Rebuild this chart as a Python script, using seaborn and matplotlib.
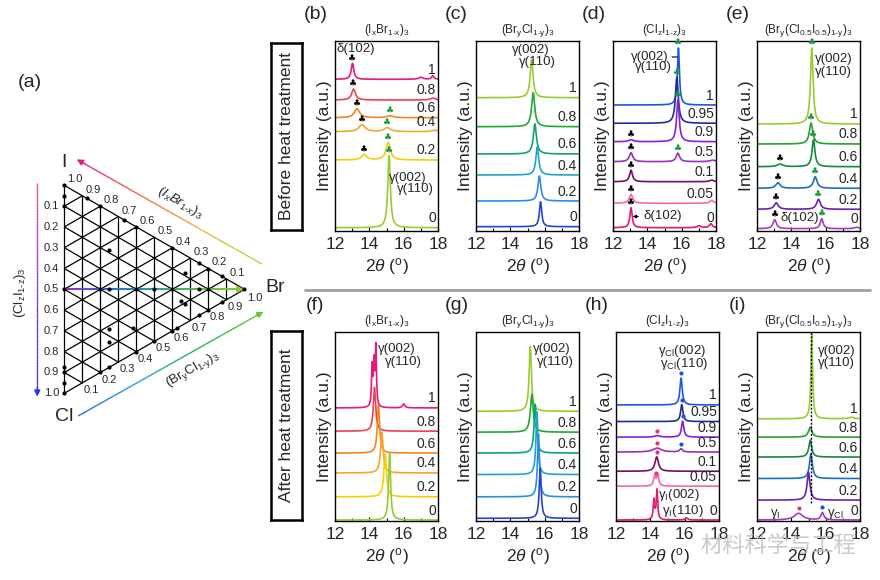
# XRD patterns of the mixed-halide series before / after heat treatment + ternary map

import numpy as np
import pandas as pd
import matplotlib
matplotlib.use("Agg")
import matplotlib.pyplot as plt
import seaborn as sns
from matplotlib.collections import LineCollection
from matplotlib.colors import LinearSegmentedColormap
from matplotlib.lines import Line2D

W, H = 880, 580

# ---------------- data (heights in px above the axis bottom, 2theta in deg) ----------------
ibr_comps = ["1", "0.8", "0.6", "0.4", "0.2", "0"]
brcl_comps = ["1", "0.8", "0.6", "0.4", "0.2", "0"]
cli_comps = ["1", "0.95", "0.9", "0.5", "0.1", "0.05", "0"]
brcli_comps = ["1", "0.8", "0.6", "0.4", "0.2", "0"]

ibr_colors = ["#e8187c", "#f0434f", "#f7851f", "#f6a532", "#f5cd0a", "#99cc33"]
brcl_colors = ["#99cc33", "#1faa2e", "#12a07a", "#1ea6c8", "#2a8ee6", "#2345d3"]
cli_colors = ["#2256e0", "#1b2e9e", "#8a1fd6", "#9a30b8", "#7a0a64", "#f56aa6", "#e3186f"]
brcli_colors = ["#99cc33", "#2aa12e", "#158a3c", "#1f6fbf", "#6a1fb8", "#a23dc2"]

# (b) before, IxBr1-x
b_base = [151.7, 131, 113.3, 99.3, 71, 3.3]
b_peaks = [
    [(13.02, 16, 0.09), (17.0, 2, 0.15), (17.7, 3.5, 0.08)],
    [(13.08, 11, 0.13), (17.7, 2, 0.15)],
    [(13.28, 9, 0.18), (15.2, 2, 0.2)],
    [(13.57, 7, 0.22), (15.05, 4, 0.22), (17.8, 1.5, 0.2)],
    [(13.7, 5.5, 0.18), (15.1, 17.5, 0.15)],
    [(15.15, 72, 0.09)],
]
b_marks = [(0, 13.02, "d"), (1, 13.08, "d"), (2, 13.28, "d"), (3, 13.57, "d"), (4, 13.7, "d"),
           (2, 15.2, "g"), (3, 15.05, "g"), (4, 15.1, "g"), (5, 15.15, "g")]

# (c) before, BryCl1-y
c_base = [133.3, 104.3, 77, 56, 30, 4.3]
c_peaks = [
    [(15.24, 38, 0.1)],
    [(15.33, 34, 0.11)],
    [(15.43, 30, 0.11)],
    [(15.57, 28, 0.1)],
    [(15.69, 25, 0.1)],
    [(15.76, 25, 0.08)],
]

# (d) before, ClzI1-z
d_base = [126, 107.7, 89.3, 69.3, 49.3, 27.7, 3.3]
d_peaks = [
    [(15.81, 57, 0.07)],
    [(15.72, 46, 0.1)],
    [(15.78, 42, 0.09), (13.05, 2, 0.15)],
    [(13.05, 9, 0.12), (15.78, 8.5, 0.12), (17.8, 1.5, 0.2)],
    [(13.05, 11.5, 0.1), (17.75, 1.5, 0.15)],
    [(13.05, 9, 0.12), (17.75, 3, 0.12)],
    [(13.05, 20, 0.08), (17.0, 2, 0.12), (17.7, 4, 0.1)],
]
d_marks = [(0, 15.81, "g"), (1, 15.72, "g"), (2, 15.78, "g"), (3, 15.78, "g"),
           (2, 13.05, "d"), (3, 13.05, "d"), (4, 13.05, "d"), (5, 13.05, "d"), (6, 13.05, "d")]

# (e) before, Bry(Cl0.5I0.5)1-y
e_base = [107, 87, 64.3, 42.7, 21.7, 2.3]
e_peaks = [
    [(15.19, 76, 0.09)],
    [(15.15, 21, 0.12)],
    [(15.29, 27, 0.1), (13.35, 2.5, 0.2)],
    [(13.22, 5.5, 0.15), (15.39, 11.5, 0.13)],
    [(13.12, 6.5, 0.14), (15.58, 10, 0.13)],
    [(13.03, 9, 0.12), (15.77, 10, 0.1), (17.8, 1.5, 0.15)],
]
e_marks = [(0, 15.19, "g"), (1, 15.15, "g"), (2, 15.29, "g"), (3, 15.39, "g"), (4, 15.58, "g"),
           (5, 15.77, "g"), (2, 13.35, "d"), (3, 13.22, "d"), (4, 13.12, "d"), (5, 13.03, "d")]

# (f) after, IxBr1-x
f_base = [113.7, 90.3, 68.3, 48.3, 24.3, 1]
f_peaks = [
    [(14.16, 40, 0.04), (14.27, 42, 0.04), (14.38, 60, 0.04), (16.0, 4, 0.08)],
    [(14.3, 44, 0.08)],
    [(14.53, 48, 0.08)],
    [(14.73, 41, 0.09)],
    [(14.92, 43, 0.09)],
    [(15.18, 67, 0.07)],
]

# (g) after, BryCl1-y
g_base = [110.3, 89.3, 68.3, 46.7, 24.3, 2.7]
g_peaks = [
    [(15.16, 65, 0.08)],
    [(15.25, 38, 0.1)],
    [(15.45, 49, 0.08)],
    [(15.55, 63, 0.07)],
    [(15.64, 63, 0.07)],
    [(15.74, 50, 0.07)],
]

# (h) after, ClzI1-z
h_base = [116.7, 100, 84.3, 69.3, 50, 35, 1]
h_peaks = [
    [(15.79, 27, 0.08)],
    [(15.83, 17, 0.08)],
    [(15.88, 16, 0.08), (14.4, 1.5, 0.2)],
    [(14.4, 4, 0.3), (15.79, 3.3, 0.1)],
    [(14.37, 14.5, 0.12)],
    [(14.25, 10, 0.07), (14.43, 11, 0.07)],
    [(14.21, 20, 0.05), (14.39, 30, 0.05), (16.1, 2, 0.1)],
]
h_marks = [(0, 15.79, "b"), (1, 15.83, "b"), (2, 15.88, "b"), (3, 15.79, "b"),
           (2, 14.4, "p"), (3, 14.4, "p"), (4, 14.37, "p"), (5, 14.35, "p"), (6, 14.3, "p")]

# (i) after, Bry(Cl0.5I0.5)1-y
i_base = [102.7, 84.3, 64.3, 42.7, 21, 1]
i_peaks = [
    [(15.19, 85, 0.06), (17.5, 1.5, 0.2)],
    [(15.1, 10, 0.12)],
    [(15.1, 17, 0.1)],
    [(15.14, 25, 0.1)],
    [(15.0, 28, 0.1)],
    [(14.42, 6.7, 0.3), (15.81, 7.3, 0.1)],
]
i_marks = [(5, 14.42, "p"), (5, 15.81, "b")]

# ternary map: measured compositions as (Br fraction, I fraction)
tern_br = [0, 0, 0, 0, 0, 0, 0, 0,
           0.125, 0.2, 0.333, 0.4, 0.6, 0.75, 0.8, 0.875, 1.0,
           0.2, 0.25, 0.4, 0.5, 0.6, 0.625, 0.75, 0.8, 0.875,
           0.2, 0.25, 0.4, 0.5, 0.6, 0.75, 0.8,
           0.25, 0.67, 0.65, 0.67, 0.25, 0.38, 0.25]
tern_i = [1, 0.95, 0.9, 0.5, 0.125, 0.1, 0.05, 0,
          0.875, 0.8, 0.667, 0.6, 0.4, 0.25, 0.2, 0.125, 0.0,
          0, 0, 0, 0, 0, 0, 0, 0, 0,
          0.4, 0.375, 0.3, 0.25, 0.2, 0.125, 0.1,
          0.565, 0.242, 0.12, 0.093, 0.186, 0.123, 0.122]
tick_vals = [0.1, 0.2, 0.3, 0.4, 0.5, 0.6, 0.7, 0.8, 0.9, 1.0]

# ---------------- style ----------------
sns.set_theme(style="white")
plt.rcParams["font.family"] = ["Liberation Sans", "DejaVu Sans", "Noto Sans CJK SC"]
plt.rcParams["mathtext.fontset"] = "custom"
plt.rcParams["mathtext.rm"] = "Liberation Sans"
plt.rcParams["mathtext.it"] = "Liberation Sans:italic"
plt.rcParams["mathtext.bf"] = "Liberation Sans:bold"

fig = plt.figure(figsize=(W / 100, H / 100), dpi=100)


def px_axes(l, t, w, h):
    return fig.add_axes([l / W, 1 - (t + h) / H, w / W, h / H])


tt = np.linspace(12, 18, 721)


def profile(x, base, peaks):
    y = np.full_like(x, base, dtype=float)
    for x0, hh, ww in peaks:
        y = y + hh / (1 + ((x - x0) / ww) ** 2)
    return y


def xrd_panel(ax, letter, title, comps, bases, peaks, colors, marks=()):
    frames = [pd.DataFrame({"tt": tt, "I": profile(tt, b, p), "comp": c})
              for c, b, p in zip(comps, bases, peaks)]
    df = pd.concat(frames, ignore_index=True)
    sns.lineplot(data=df, x="tt", y="I", hue="comp", hue_order=comps, palette=colors,
                 legend=False, estimator=None, sort=False, lw=1.2, ax=ax)
    for c, b in zip(comps, bases):
        ax.text(17.88, b + 2.5, c, ha="right", va="bottom", fontsize=10)
    for idx, x0, kind in marks:
        y0 = profile(np.array([x0]), bases[idx], peaks[idx])[0]
        if kind in ("d", "g"):
            ax.text(x0, y0 + 0.5, "\u2663", ha="center", va="bottom", fontsize=6.5,
                    color="black" if kind == "d" else "#179a3c", family=["DejaVu Sans"])
        else:
            ax.plot(x0, y0 + 5, "o", ms=3, mew=0,
                    color="#ee2f7c" if kind == "p" else "#2553dd")
    ax.set_xlim(12, 18)
    ax.set_ylim(0, 190)
    ax.set_xticks([12, 14, 16, 18])
    ax.set_xticks([13, 15, 17], minor=True)
    ax.set_yticks([])
    ax.tick_params(axis="x", which="both", direction="in", bottom=True, labelsize=12.5,
                   length=3, width=0.8, pad=4, color="black")
    ax.tick_params(axis="x", which="minor", length=2)
    for s in ax.spines.values():
        s.set_color("black")
        s.set_linewidth(1.0)
    ax.set_xlabel("2$\\theta$ ($^{\\rm o}$)", fontsize=12.5, labelpad=3)
    ax.set_ylabel("Intensity (a.u.)", fontsize=12.5, labelpad=2)
    ax.set_title(title, fontsize=8.5, pad=6)
    ax.text(-0.19, 1.14, letter, transform=ax.transAxes, fontsize=14, ha="center", va="center")


t_ibr = "(I$_{\\rm x}$Br$_{\\rm 1\\text{-}x}$)$_{\\rm 3}$"
t_brcl = "(Br$_{\\rm y}$Cl$_{\\rm 1\\text{-}y}$)$_{\\rm 3}$"
t_cli = "(Cl$_{\\rm z}$I$_{\\rm 1\\text{-}z}$)$_{\\rm 3}$"
t_brcli = "(Br$_{\\rm y}$(Cl$_{\\rm 0.5}$I$_{\\rm 0.5}$)$_{\\rm 1\\text{-}y}$)$_{\\rm 3}$"

fs_ann = 9.5

# top row: before heat treatment
ax_b = px_axes(335, 41, 103, 190)
xrd_panel(ax_b, "(b)", t_ibr, ibr_comps, b_base, b_peaks, ibr_colors, b_marks)
ax_b.text(12.1, 182, "\u03b4(102)", fontsize=fs_ann, va="center")
ax_b.text(15.12, 53, "\u03b3(002)", fontsize=fs_ann, va="center")
ax_b.text(15.6, 42, "\u03b3(110)", fontsize=fs_ann, va="center")

ax_c = px_axes(476, 41, 103, 190)
xrd_panel(ax_c, "(c)", t_brcl, brcl_comps, c_base, c_peaks, brcl_colors)
ax_c.text(15.2, 181, "\u03b3(002)", fontsize=fs_ann, va="center", ha="center")
ax_c.text(15.6, 169, "\u03b3(110)", fontsize=fs_ann, va="center", ha="center")

ax_d = px_axes(613, 41, 103, 190)
xrd_panel(ax_d, "(d)", t_cli, cli_comps, d_base, d_peaks, cli_colors, d_marks)
ax_d.annotate("\u03b3(002)", xy=(15.75, 174), xytext=(15.25, 174), fontsize=fs_ann,
              ha="right", va="center", arrowprops=dict(arrowstyle="-", lw=0.8, color="black",
                                                        shrinkA=0, shrinkB=0))
ax_d.text(15.45, 164, "\u03b3(110)", fontsize=fs_ann, va="center", ha="right")
ax_d.annotate("\u03b4(102)", xy=(13.15, 14.5), xytext=(13.75, 14.5), fontsize=fs_ann,
              ha="left", va="center", arrowprops=dict(arrowstyle="-|>", lw=0.7, color="black",
                                                       mutation_scale=5, shrinkA=1, shrinkB=0))

ax_e = px_axes(757, 41, 103, 190)
xrd_panel(ax_e, "(e)", t_brcli, brcli_comps, e_base, e_peaks, brcli_colors, e_marks)
ax_e.text(15.38, 172, "\u03b3(002)", fontsize=fs_ann, va="center")
ax_e.text(15.38, 159, "\u03b3(110)", fontsize=fs_ann, va="center")
ax_e.text(13.35, 13, "\u03b4(102)", fontsize=fs_ann, va="center")

# bottom row: after heat treatment
ax_f = px_axes(335, 332, 103, 189)
xrd_panel(ax_f, "(f)", t_ibr, ibr_comps, f_base, f_peaks, ibr_colors)
ax_f.text(14.5, 173, "\u03b3(002)", fontsize=fs_ann, va="center")
ax_f.text(14.9, 160, "\u03b3(110)", fontsize=fs_ann, va="center")

ax_g = px_axes(476, 332, 103, 189)
xrd_panel(ax_g, "(g)", t_brcl, brcl_comps, g_base, g_peaks, brcl_colors)
ax_g.text(15.32, 173, "\u03b3(002)", fontsize=fs_ann, va="center")
ax_g.text(15.55, 160, "\u03b3(110)", fontsize=fs_ann, va="center")

ax_h = px_axes(616, 332, 103, 189)
xrd_panel(ax_h, "(h)", t_cli, cli_comps, h_base, h_peaks, cli_colors, h_marks)
ax_h.text(14.45, 171, "\u03b3$_{\\rm Cl}$(002)", fontsize=fs_ann, va="center")
ax_h.text(14.56, 158, "\u03b3$_{\\rm Cl}$(110)", fontsize=fs_ann, va="center")
ax_h.text(14.45, 26, "\u03b3$_{\\rm I}$(002)", fontsize=fs_ann, va="center")
ax_h.text(14.68, 10, "\u03b3$_{\\rm I}$(110)", fontsize=fs_ann, va="center")

ax_i = px_axes(757, 332, 103, 189)
xrd_panel(ax_i, "(i)", t_brcli, brcli_comps, i_base, i_peaks, brcli_colors, i_marks)
ax_i.vlines(15.13, 18, 190, colors="black", linestyles=(0, (1.5, 1.2)), lw=1.0, zorder=5)
ax_i.text(15.55, 171, "\u03b3(002)", fontsize=fs_ann, va="center")
ax_i.text(15.55, 159, "\u03b3(110)", fontsize=fs_ann, va="center")
ax_i.text(12.76, 7, "\u03b3$_{\\rm I}$", fontsize=fs_ann, va="center")
ax_i.text(16.1, 7, "\u03b3$_{\\rm Cl}$", fontsize=fs_ann, va="center")

# row boxes and separator
for top, hgt, txt in [(43, 187, "Before heat treatment"), (331, 189, "After heat treatment")]:
    bx = px_axes(271, top, 31, hgt)
    bx.set_xticks([])
    bx.set_yticks([])
    for s in bx.spines.values():
        s.set_color("black")
        s.set_linewidth(1.8)
    bx.text(0.5, 0.5, txt, rotation=90, ha="center", va="center", fontsize=12.5,
            transform=bx.transAxes)

fig.add_artist(Line2D([305 / W, 870 / W], [1 - 290 / H, 1 - 290 / H], color="#a0a0a0", lw=2))

# ---------------- (a) ternary composition map ----------------
ax_a = px_axes(5, 60, 295, 400)
ax_a.set_xlim(-0.285, 1.133)
ax_a.set_ylim(-0.321, 1.603)
ax_a.axis("off")
S3 = np.sqrt(3) / 2


def tern(fbr, fi):
    return np.array([fbr * S3, fi + fbr / 2])


segs = []
for k in range(11):
    c = k / 10
    segs.append([tern(c, 0), tern(c, 1 - c)])
    segs.append([tern(0, c), tern(1 - c, c)])
    segs.append([tern(0, 1 - c), tern(1 - c, 0)])
ax_a.add_collection(LineCollection(segs, colors="black", lw=0.9))

pts = np.array([tern(b, i) for b, i in zip(tern_br, tern_i)])
sns.scatterplot(x=pts[:, 0], y=pts[:, 1], ax=ax_a, color="black", s=9, linewidth=0, zorder=4)

for v in tick_vals:
    p = tern(1 - v, v)
    ax_a.text(p[0] + 0.015, p[1] + 0.005, f"{v:.1f}", fontsize=8, ha="left", va="bottom")
    p = tern(0, 1 - v)
    ax_a.text(p[0] - 0.025, p[1], f"{v:.1f}", fontsize=8, ha="right", va="center")
    p = tern(v, 0)
    if v < 1:
        ax_a.text(p[0] + 0.005, p[1] - 0.01, f"{v:.1f}", fontsize=8, ha="left", va="top")
    else:
        ax_a.text(p[0] + 0.015, p[1] - 0.02, f"{v:.1f}", fontsize=8, ha="left", va="top")

ax_a.text(*(tern(0, 1) + [0, 0.11]), "I", fontsize=14, ha="center", va="center")
ax_a.text(*(tern(1, 0) + [0.1, 0.01]), "Br", fontsize=14, ha="left", va="center")
ax_a.text(*(tern(0, 0) + [0, -0.11]), "Cl", fontsize=14, ha="center", va="center")
ax_a.text(-0.165, 1.497, "(a)", fontsize=14, ha="center", va="center")


def grad_arrow(p0, p1, cols, lw=1.0):
    p0, p1 = np.asarray(p0, float), np.asarray(p1, float)
    t = np.linspace(0, 0.97, 80)
    line = p0 + (p1 - p0) * t[:, None]
    cmap = LinearSegmentedColormap.from_list("g", cols)
    lc = LineCollection(np.stack([line[:-1], line[1:]], axis=1), colors=cmap(t[:-1]), lw=lw)
    ax_a.add_collection(lc)
    ax_a.annotate("", xy=p1, xytext=line[-2],
                  arrowprops=dict(arrowstyle="-|>", color=cols[-1], lw=lw,
                                  mutation_scale=9, shrinkA=0, shrinkB=0))


grad_arrow((0.949, 0.622), (0.06, 1.125), ["#b8d535", "#f2b03a", "#f0603e", "#e6197a"])
grad_arrow((-0.13, 1.01), (-0.13, -0.016), ["#ea4a8c", "#a03cc4", "#5a30d0", "#2a3ad8"])
grad_arrow((0.067, -0.109), (0.957, 0.392), ["#2a5ce6", "#1aa6d8", "#22b04a", "#6cc23a"])
grad_arrow(tern(0, 0.5), tern(1, 0), ["#9a30c8", "#2a6ad0", "#2aa0a0", "#5cbc3a", "#8ac83a"],
           lw=1.5)

ax_a.text(0.556, 0.915, "$(I_xBr_{1\\text{-}x})_3$", fontsize=9.5, rotation=-30,
          ha="center", va="center")
ax_a.text(0.619, 0.112, t_brcl, fontsize=9.5, rotation=30, ha="center", va="center")
ax_a.text(-0.213, 0.481, t_cli, fontsize=9.5, rotation=90, ha="center", va="center")

# watermark
fig.text(778 / W, 1 - 545 / H, "\u6750\u6599\u79d1\u5b66\u4e0e\u5de5\u7a0b",
         family=["Noto Sans CJK SC"], fontsize=16, color="#bdbdbd", alpha=0.8,
         ha="center", va="center")

fig.savefig("out.png", dpi=100)
plt.close()
